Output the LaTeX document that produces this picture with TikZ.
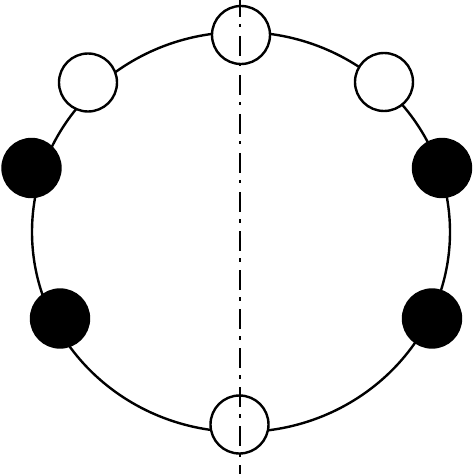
\documentclass[tikz,border=0pt]{standalone}
\usepackage{tikz}
\usepackage{xcolor}

\begin{document}
\begin{tikzpicture}[x=1pt,y=1pt]

\tikzset{ball/.style = {shape=circle,draw,line width=2.4pt,minimum size=58pt,inner sep=0pt}}
\tikzset{empty/.style = {ball,fill=white}}
\tikzset{full/.style = {ball,fill=black}}
\tikzset{axis/.style = {line width=2.4pt,dash pattern=on 20pt off 7pt on 3.5pt off 8.5pt,dash phase=3pt}}

\useasboundingbox (-241,-242) rectangle (233,232);

%ring
\draw[line width=2.4pt] (0,0) ellipse [x radius=209, y radius=200];

\node[empty] (0) at (0,197) {};
\node[empty] (1) at (-153,149.5) {};
\node[empty] (2) at (143,150) {};
\node[full] (3) at (-209.5,64) {};
\node[full] (4) at (201,64) {};
\node[full] (5) at (-181,-86.5) {};
\node[full] (6) at (191,-86.5) {};
\node[empty] (7) at (-1.5,-192.5) {};

%axis
\coordinate (top) at (-1,232);
\coordinate (bot) at (-1,-242);
\draw[axis] (top) -- (bot);
\end{tikzpicture}
\end{document}
